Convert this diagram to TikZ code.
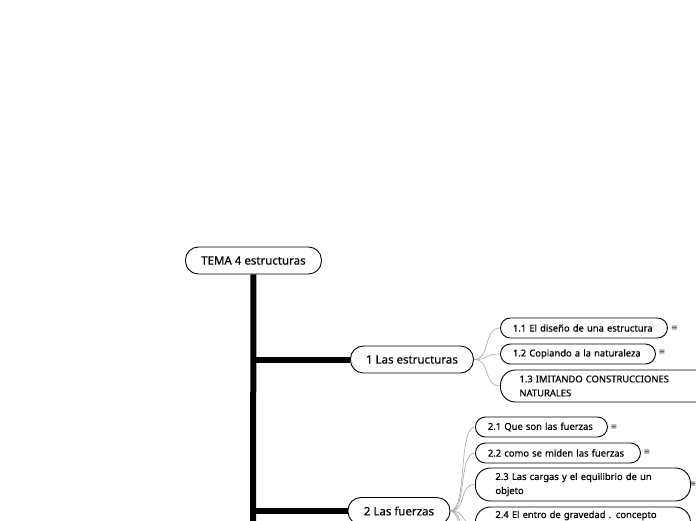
\documentclass[tikz,border=0pt]{standalone}
\usepackage{fontspec}
\setmainfont{Noto Sans}[FakeBold=0.4]
\newfontfamily\markfont{DejaVu Sans}
\usepackage{amssymb}
\usepackage{amsmath}
\tikzset{
  topic/.style={draw=black,line width=0.9pt,fill=white,rounded corners=13pt,inner sep=0pt,anchor=west,align=center,font=\fontsize{11.5}{15}\selectfont},
  subtopic/.style={draw=black,line width=0.9pt,fill=white,rounded corners=10pt,inner xsep=12.5pt,inner ysep=0pt,anchor=west,align=left,font=\fontsize{9.4}{14}\selectfont},
  longtopic/.style={subtopic,rounded corners=15pt,inner xsep=20pt},
  note/.style={inner sep=0pt,text=black!85,font=\markfont\fontsize{8}{8}\selectfont},
  trunk/.style={line width=6pt,black},
  twig/.style={draw=gray!70,line width=0.6pt},
}
\begin{document}
\begin{tikzpicture}[x=1pt,y=1pt]
\clip (0,0) rectangle (696,-520);
\fill[white] (0,0) rectangle (696,-520);
% main branches
\coordinate (trunkend) at (253,-535);
\coordinate (joinA) at (253,-359.5);
\coordinate (joinB) at (253,-511);
\node[topic,minimum width=136pt,minimum height=27pt] (root) at (185,-260.5) {TEMA 4 estructuras};
\node[topic,minimum width=123pt,minimum height=27pt] (estr) at (350,-359.5) {1 Las estructuras};
\node[topic,minimum width=102pt,minimum height=27pt] (fuer) at (347.5,-511) {2 Las fuerzas};
\draw[trunk] (root.south) -- (trunkend);
\draw[trunk] (joinA) -- (estr.west);
\draw[trunk] (joinB) -- (fuer.west);
% children of 1
\node[subtopic,text width=142pt,minimum height=20pt] (estrA) at (500,-328) {\mbox{1.1 El diseño de una estructura}};
\node[subtopic,text width=130pt,minimum height=20pt] (estrB) at (500,-354) {\mbox{1.2 Copiando a la naturaleza}};
\node[longtopic,inner xsep=19pt,text width=202pt,minimum height=32pt] (estrC) at (500,-386) {1.3 IMITANDO CONSTRUCCIONES\\NATURALES};
% children of 2
\node[subtopic,text width=107pt,minimum height=20pt] (fuerA) at (475,-427) {\mbox{2.1 Que son las fuerzas}};
\node[subtopic,text width=140pt,minimum height=20pt] (fuerB) at (475,-453) {\mbox{2.2 como se miden las fuerzas}};
\node[longtopic,text width=175pt,minimum height=33pt] (fuerC) at (475,-484.5) {2.3 Las cargas y el equilibrio de un\\objeto};
\node[longtopic,text width=175pt,minimum height=33pt] (fuerD) at (475,-523.5) {2.4 El entro de gravedad . concepto\\\strut};
\coordinate (fuerE) at (475,-560);
\coordinate (fuerF) at (475,-600);
% note marks
\node[note] (noteA) at (674.5,-328) {≡};
\node[note] (noteB) at (662,-352.5) {≡};
\node[note] (noteC) at (614,-427) {≡};
\node[note] (noteD) at (647,-452.5) {≡};
\node[note] (noteE) at (693,-484.5) {≡};
% twigs
\foreach \kid in {estrA,estrB,estrC}
  \draw[twig] (estr.east) .. controls +(17,0) and +(-17,0) .. (\kid.west);
\foreach \kid in {fuerA,fuerB,fuerC,fuerD,fuerE,fuerF}
  \draw[twig] (fuer.east) .. controls +(17,0) and +(-17,0) .. (\kid.west);
\end{tikzpicture}
\end{document}
